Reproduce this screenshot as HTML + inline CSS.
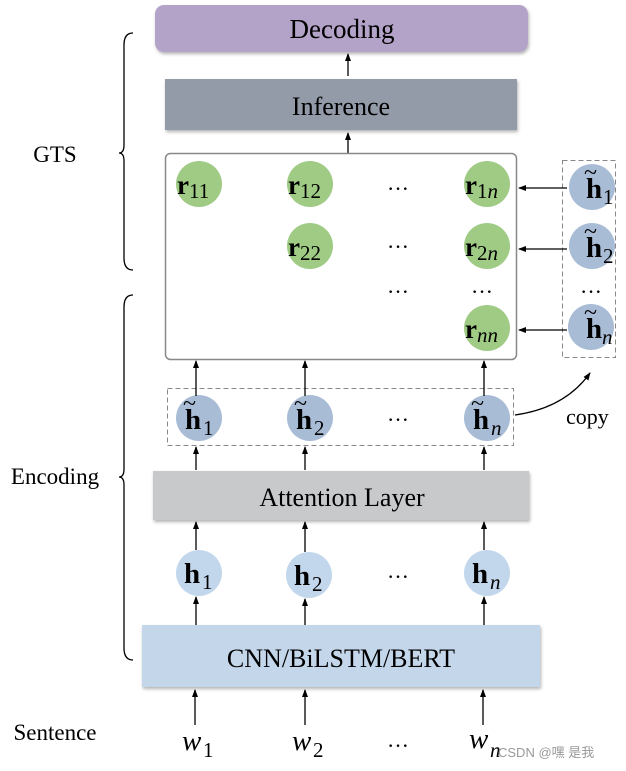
<!DOCTYPE html>
<html><head><meta charset="utf-8"><style>body{margin:0;background:#fff}svg{display:block}</style></head><body>
<svg width="626" height="771" viewBox="0 0 626 771" xmlns="http://www.w3.org/2000/svg" font-family="Liberation Serif, serif">
<defs>
<marker id="a" markerWidth="8" markerHeight="8" refX="7" refY="4" orient="auto" markerUnits="userSpaceOnUse"><path d="M0,1 L8,4 L0,7 Z" fill="#000"/></marker>
<filter id="s" x="-5%" y="-10%" width="110%" height="130%"><feDropShadow dx="1" dy="2" stdDeviation="1.5" flood-color="#000" flood-opacity="0.3"/></filter>
</defs>
<path d="M133,33 Q124,33 124,45 L124,145 Q124,153 119,153 Q124,153 124,161 L124,258 Q124,270 133,270" fill="none" stroke="#000" stroke-width="1.3"/>
<path d="M133,295 Q124,295 124,307 L124,469 Q124,477 119,477 Q124,477 124,485 L124,648 Q124,660 133,660" fill="none" stroke="#000" stroke-width="1.3"/>
<g font-size="23" text-anchor="middle">
<text x="55" y="162">GTS</text>
<text x="55" y="484">Encoding</text>
<text x="55" y="740">Sentence</text>
</g>
<rect x="155" y="5" width="373" height="47" rx="9" fill="#b3a3c8" filter="url(#s)"/>
<text x="342" y="38" font-size="27" text-anchor="middle">Decoding</text>
<line x1="348" y1="76" x2="348" y2="54" stroke="#000" stroke-width="1.3" marker-end="url(#a)"/>
<rect x="165" y="79" width="352" height="51" fill="#939aa8" filter="url(#s)"/>
<text x="341" y="115" font-size="26" text-anchor="middle">Inference</text>
<line x1="348" y1="153" x2="348" y2="133" stroke="#000" stroke-width="1.3" marker-end="url(#a)"/>
<rect x="165.5" y="153.5" width="351" height="206" rx="5" fill="#fff" stroke="#888" stroke-width="1.5"/>
<g fill="#9fcb85">
<circle cx="199" cy="184" r="23"/><circle cx="310" cy="184" r="23"/><circle cx="487" cy="184" r="23"/>
<circle cx="310" cy="246" r="23"/><circle cx="487" cy="246" r="23"/><circle cx="487" cy="328" r="23"/>
</g>
<g font-size="27">
<text x="177" y="194"><tspan font-weight="bold">r</tspan><tspan font-size="21" dy="4">11</tspan></text>
<text x="288" y="194"><tspan font-weight="bold">r</tspan><tspan font-size="21" dy="4">12</tspan></text>
<text x="465" y="194"><tspan font-weight="bold">r</tspan><tspan font-size="21" dy="4">1<tspan font-style="italic">n</tspan></tspan></text>
<text x="288" y="256"><tspan font-weight="bold">r</tspan><tspan font-size="21" dy="4">22</tspan></text>
<text x="465" y="256"><tspan font-weight="bold">r</tspan><tspan font-size="21" dy="4">2<tspan font-style="italic">n</tspan></tspan></text>
<text x="465" y="338"><tspan font-weight="bold">r</tspan><tspan font-size="21" dy="4" font-style="italic">nn</tspan></text>
</g>
<g font-size="22" text-anchor="middle">
<text x="398" y="196">···</text><text x="398" y="254">···</text><text x="398" y="299">···</text><text x="482" y="299">···</text>
<text x="591" y="299">···</text><text x="398" y="427">···</text><text x="398" y="584">···</text><text x="398" y="753">···</text>
</g>
<rect x="562.5" y="160.5" width="53" height="197" fill="none" stroke="#888" stroke-dasharray="5,3"/>
<g fill="#a9bcd6">
<circle cx="592" cy="187" r="23"/><circle cx="592" cy="246" r="23"/><circle cx="591" cy="327" r="23"/>
</g>
<g stroke="#000" stroke-width="1.3" marker-end="url(#a)">
<line x1="567" y1="188" x2="519" y2="188"/><line x1="567" y1="249" x2="519" y2="249"/><line x1="567" y1="330" x2="519" y2="330"/>
</g>
<rect x="167.5" y="388.5" width="346" height="57" fill="none" stroke="#888" stroke-dasharray="5,3"/>
<g fill="#a9bcd6"><circle cx="199" cy="418" r="23"/><circle cx="310" cy="418" r="23"/><circle cx="487" cy="418" r="23"/></g>
<g font-size="29" font-weight="bold">
<text x="586" y="198">h</text><text x="586" y="257">h</text><text x="586" y="338">h</text>
<text x="185" y="429">h</text><text x="296" y="429">h</text><text x="473" y="429">h</text>
</g>
<g font-size="24">
<text x="584" y="180">~</text><text x="584" y="239">~</text><text x="584" y="320">~</text>
<text x="183" y="411">~</text><text x="294" y="411">~</text><text x="471" y="411">~</text>
</g>
<g font-size="21">
<text x="603" y="204">1</text><text x="603" y="263">2</text><text x="602" y="344" font-style="italic">n</text>
<text x="203" y="435">1</text><text x="314" y="435">2</text><text x="491" y="435" font-style="italic">n</text>
</g>
<g stroke="#000" stroke-width="1.3" marker-end="url(#a)">
<line x1="196" y1="396" x2="196" y2="361"/><line x1="305" y1="396" x2="305" y2="361"/><line x1="484" y1="396" x2="484" y2="361"/>
<line x1="196" y1="470" x2="196" y2="447"/><line x1="305" y1="470" x2="305" y2="447"/><line x1="484" y1="470" x2="484" y2="447"/>
</g>
<path d="M515,415 Q565,408 590,373" fill="none" stroke="#000" stroke-width="1.3" marker-end="url(#a)"/>
<text x="566" y="424" font-size="22">copy</text>
<rect x="153" y="471" width="376" height="49" fill="#c8c9cb" filter="url(#s)"/>
<text x="342" y="506" font-size="26" text-anchor="middle">Attention Layer</text>
<g fill="#c3d7ec"><circle cx="199" cy="573" r="23"/><circle cx="309" cy="575" r="23"/><circle cx="487" cy="573" r="23"/></g>
<g font-size="29" font-weight="bold"><text x="184" y="583">h</text><text x="294" y="585">h</text><text x="472" y="583">h</text></g>
<g font-size="21"><text x="202" y="589">1</text><text x="312" y="591">2</text><text x="490" y="589" font-style="italic">n</text></g>
<g stroke="#000" stroke-width="1.3" marker-end="url(#a)">
<line x1="196" y1="550" x2="196" y2="522"/><line x1="305" y1="552" x2="305" y2="522"/><line x1="484" y1="550" x2="484" y2="522"/>
<line x1="196" y1="625" x2="196" y2="597"/><line x1="305" y1="625" x2="305" y2="599"/><line x1="484" y1="625" x2="484" y2="597"/>
<line x1="195" y1="725" x2="195" y2="690"/><line x1="305" y1="725" x2="305" y2="690"/><line x1="483" y1="725" x2="483" y2="690"/>
</g>
<rect x="142" y="625" width="398" height="62" fill="#c3d6ea" filter="url(#s)"/>
<text x="341" y="667" font-size="26" text-anchor="middle">CNN/BiLSTM/BERT</text>
<g font-size="29" font-style="italic"><text x="182" y="750">w</text><text x="292" y="750">w</text><text x="469" y="748">w</text></g>
<g font-size="21"><text x="203" y="757">1</text><text x="313" y="757">2</text><text x="490" y="757" font-style="italic">n</text></g>
<text x="498" y="757" font-size="13" fill="#999" font-family="Liberation Sans, Noto Sans CJK SC, sans-serif">CSDN @嘿 是我</text>
</svg>
</body></html>
